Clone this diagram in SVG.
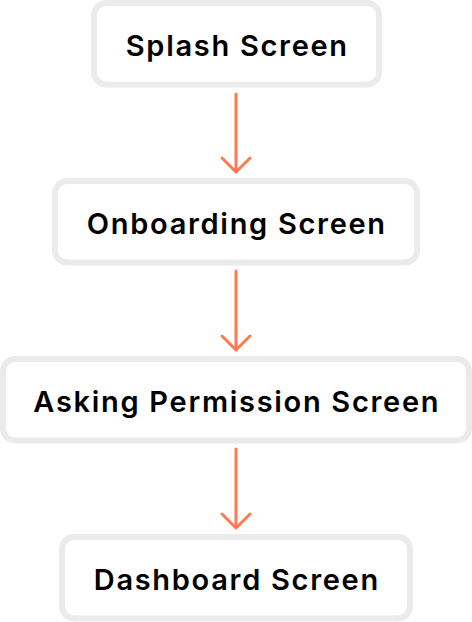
<svg xmlns="http://www.w3.org/2000/svg" width="472" height="622" viewBox="0 0 472 622">
<style>
.box{fill:#ffffff;stroke:#ebebeb;stroke-width:6}
.lbl{font-family:Inter,"Noto Sans","Liberation Sans",sans-serif;font-weight:600;font-size:29px;letter-spacing:1.7px;fill:#000000;text-anchor:middle}
.con{fill:none;stroke:#ff7a50;stroke-width:3;stroke-linecap:round;stroke-linejoin:round}
</style>
<rect width="472" height="622" fill="#ffffff"/>
<g id="splash"><rect class="box" x="94" y="3" width="285" height="81.5" rx="12"/><text class="lbl" x="237.3" y="55.5">Splash Screen</text></g>
<g id="onboarding"><rect class="box" x="55" y="181" width="362" height="81.5" rx="12"/><text class="lbl" x="236.8" y="233.5">Onboarding Screen</text></g>
<g id="permission"><rect class="box" x="3" y="359" width="466" height="81.5" rx="12"/><text class="lbl" x="236.8" y="411.5">Asking Permission Screen</text></g>
<g id="dashboard"><rect class="box" x="62" y="537" width="348" height="81.5" rx="12"/><text class="lbl" x="236.8" y="589.5">Dashboard Screen</text></g>
<g id="connectors">
<path class="con" d="M236 94V172M222 158L236 172L250 158"/>
<path class="con" d="M236 271V350M222 336L236 350L250 336"/>
<path class="con" d="M236 449V528M222 514L236 528L250 514"/>
</g>
</svg>
